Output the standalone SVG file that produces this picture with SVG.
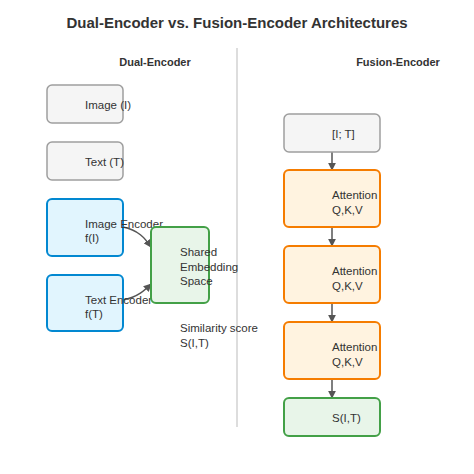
<svg xmlns="http://www.w3.org/2000/svg" width="474" height="474" viewBox="0 0 474 474">
<style>
text{font-family:"Liberation Sans",Arial,sans-serif;fill:#333}
.title{font-size:15px;font-weight:bold;text-anchor:middle}
.sub{font-size:11px;font-weight:bold;text-anchor:middle}
.lbl{font-size:11.5px}
.gray{fill:#f5f5f5;stroke:#9e9e9e;stroke-width:1.5}
.blue{fill:#e1f5fe;stroke:#0288d1;stroke-width:2}
.green{fill:#e8f5e9;stroke:#43a047;stroke-width:2}
.orange{fill:#fff3e0;stroke:#f57c00;stroke-width:2}
.edge{fill:none;stroke:#555;stroke-width:1.5}
</style>
<defs>
<marker id="arr" viewBox="0 0 10 10" refX="9" refY="5" markerWidth="8" markerHeight="8" markerUnits="userSpaceOnUse" orient="auto">
<path d="M0,0 L10,5 L0,10 z" fill="#555"/>
</marker>
</defs>
<rect width="474" height="474" fill="#fff"/>
<text class="title" x="237" y="28">Dual-Encoder vs. Fusion-Encoder Architectures</text>
<text class="sub" x="155" y="66">Dual-Encoder</text>
<text class="sub" x="398" y="66">Fusion-Encoder</text>
<line x1="237" y1="48" x2="237" y2="427" stroke="#ddd" stroke-width="2"/>

<g id="connectors">
<path class="edge" d="M123,227 C138,230 145,238 151,247" marker-end="url(#arr)"/>
<path class="edge" d="M123,300 C138,297 145,290 151,284" marker-end="url(#arr)"/>
<line class="edge" x1="332" y1="152" x2="332" y2="170" marker-end="url(#arr)"/>
<line class="edge" x1="332" y1="227" x2="332" y2="246" marker-end="url(#arr)"/>
<line class="edge" x1="332" y1="303" x2="332" y2="322" marker-end="url(#arr)"/>
<line class="edge" x1="332" y1="379" x2="332" y2="398" marker-end="url(#arr)"/>
</g>

<g id="image">
<rect class="gray" x="47" y="85" width="76" height="38" rx="5"/>
<text class="lbl" x="85" y="109">Image (I)</text>
</g>
<g id="text">
<rect class="gray" x="47" y="142" width="76" height="38" rx="5"/>
<text class="lbl" x="85" y="166">Text (T)</text>
</g>
<g id="image-encoder">
<rect class="blue" x="47" y="199" width="76" height="57" rx="5"/>
<text class="lbl" x="85" y="227.5">Image Encoder</text>
<text class="lbl" x="85" y="242">f(I)</text>
</g>
<g id="text-encoder">
<rect class="blue" x="47" y="275" width="76" height="56" rx="5"/>
<text class="lbl" x="85" y="303.5">Text Encoder</text>
<text class="lbl" x="85" y="318">f(T)</text>
</g>
<g id="shared">
<rect class="green" x="151" y="227" width="58" height="76" rx="5"/>
<text class="lbl" x="180" y="256">Shared</text>
<text class="lbl" x="180" y="270.5">Embedding</text>
<text class="lbl" x="180" y="285">Space</text>
</g>
<g id="similarity">
<text class="lbl" x="180" y="331.5">Similarity score</text>
<text class="lbl" x="180" y="346.5">S(I,T)</text>
</g>

<g id="concat">
<rect class="gray" x="284" y="114" width="96" height="38" rx="5"/>
<text class="lbl" x="332" y="138">[I; T]</text>
</g>
<g id="attn1">
<rect class="orange" x="284" y="170" width="96" height="57" rx="5"/>
<text class="lbl" x="332" y="199">Attention</text>
<text class="lbl" x="332" y="213.5">Q,K,V</text>
</g>
<g id="attn2">
<rect class="orange" x="284" y="246" width="96" height="57" rx="5"/>
<text class="lbl" x="332" y="275">Attention</text>
<text class="lbl" x="332" y="289.5">Q,K,V</text>
</g>
<g id="attn3">
<rect class="orange" x="284" y="322" width="96" height="57" rx="5"/>
<text class="lbl" x="332" y="351">Attention</text>
<text class="lbl" x="332" y="365.5">Q,K,V</text>
</g>
<g id="score">
<rect class="green" x="284" y="398" width="96" height="38" rx="5"/>
<text class="lbl" x="332" y="422">S(I,T)</text>
</g>
</svg>
